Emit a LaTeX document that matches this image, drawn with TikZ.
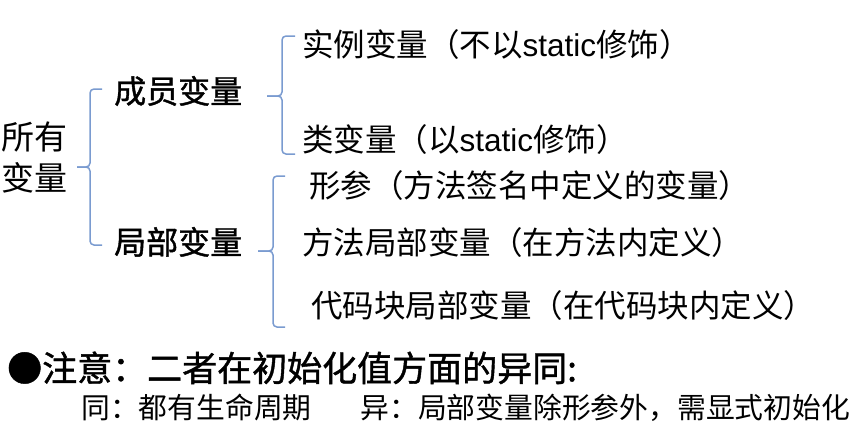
\documentclass[tikz,border=0pt]{standalone}
\usepackage{fontspec}
\setmainfont{Noto Sans CJK SC}
\newfontfamily\cjk{Noto Sans CJK SC}
\newfontfamily\cjkb[FakeBold=1.2]{Noto Sans CJK SC}
\newfontfamily\lat{Liberation Sans}
\definecolor{bracecol}{HTML}{7A9BD0}
\begin{document}
\begin{tikzpicture}[x=1pt,y=-1pt,
  rootnode/.style={anchor=west,inner sep=0pt,font=\fontsize{33}{40}\selectfont\cjk,text height=28pt,text depth=3.3pt},
  headnode/.style={anchor=west,inner sep=0pt,font=\fontsize{32}{38}\selectfont\cjkb,text height=27.5pt,text depth=3.2pt},
  itemnode/.style={anchor=west,inner sep=0pt,font=\fontsize{31.5}{38}\selectfont\cjk,text height=27pt,text depth=3pt},
  notenode/.style={anchor=west,inner sep=0pt,font=\fontsize{35}{42}\selectfont\cjkb,text height=30pt,text depth=3.5pt},
  subnode/.style={anchor=west,inner sep=0pt,font=\fontsize{28.8}{35}\selectfont\cjk,text height=24.8pt,text depth=2.9pt},
  bracepath/.style={draw=bracecol,line width=1.5pt,rounded corners=4pt}]
\useasboundingbox (0,0) rectangle (856,424);
% texts
\node[rootnode] (r1) at (1,137) {所有};
\node[rootnode] (r2) at (1,178) {变量};
\node[headnode] (m1) at (114,91) {成员变量};
\node[headnode] (m2) at (114,242) {局部变量};
\node[itemnode] (i1) at (302,44) {实例变量（不以{\lat static}修饰）};
\node[itemnode] (i2) at (302,139) {类变量（以{\lat static}修饰）};
\node[itemnode] (l1) at (309,185) {形参（方法签名中定义的变量）};
\node[itemnode] (l2) at (302,242) {方法局部变量（在方法内定义）};
\node[itemnode] (l3) at (311,305) {代码块局部变量（在代码块内定义）};
\node[notenode] (n1) at (7,368) {●注意：二者在初始化值方面的异同:};
\node[subnode] (n2) at (81,408) {同：都有生命周期\hspace*{49pt}异：局部变量除形参外，需显式初始化};
% brace 1
\coordinate (t1) at (77,167);
\coordinate (a1) at (102,89);
\coordinate (b1) at (102,245);
\draw[bracepath] (a1) -- (90,89) -- (90,167) -- (t1);
\draw[bracepath] (b1) -- (90,245) -- (90,167) -- (t1);
% brace 2
\coordinate (t2) at (267,96);
\coordinate (a2) at (295,36);
\coordinate (b2) at (295,154);
\draw[bracepath] (a2) -- (282,36) -- (282,96) -- (t2);
\draw[bracepath] (b2) -- (282,154) -- (282,96) -- (t2);
% brace 3
\coordinate (t3) at (258,251);
\coordinate (a3) at (285,176);
\coordinate (b3) at (285,327);
\draw[bracepath] (a3) -- (273,176) -- (273,251) -- (t3);
\draw[bracepath] (b3) -- (273,327) -- (273,251) -- (t3);
\end{tikzpicture}
\end{document}
